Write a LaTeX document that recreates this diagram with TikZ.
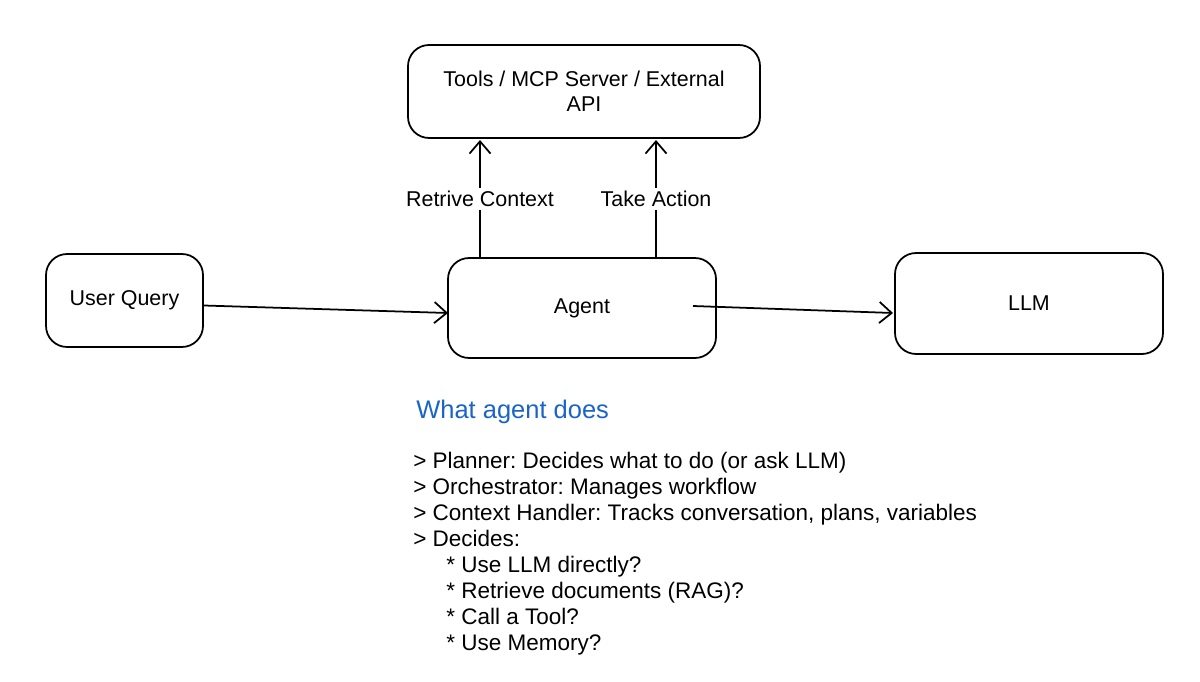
\documentclass[tikz,border=0pt]{standalone}
\usepackage{fontspec}
\setmainfont{Liberation Sans}
\usetikzlibrary{arrows.meta}
\begin{document}
\frenchspacing
\begin{tikzpicture}[x=0.02cm,y=-0.02cm,
  box/.style={draw,line width=1pt,rounded corners=12pt,inner sep=0pt},
  arr/.style={line width=1pt,-{Straight Barb[length=7pt,width=12pt]}},
  lbl/.style={font=\fontsize{12.2}{14}\selectfont},
  txt/.style={font=\fontsize{12.8}{14}\selectfont,anchor=base west,inner sep=0pt}]
\useasboundingbox (0,0) rectangle (1200,682);
\node[box,minimum width=352*0.02cm,minimum height=93*0.02cm,align=center,lbl] (tools) at (584,91.5) {Tools / MCP Server / External\\API};
\node[box,minimum width=157*0.02cm,minimum height=93*0.02cm,lbl] (user) at (124.5,300.5) {User Query};
\node[box,minimum width=268*0.02cm,minimum height=100*0.02cm,lbl] (agent) at (582,308) {Agent};
\node[box,minimum width=268*0.02cm,minimum height=101*0.02cm,lbl] (llm) at (1029,303.5) {LLM};
\coordinate (a1) at (693,306);
\draw[arr] (user.east) ++(0,5) -- (448,313);
\draw[arr] (a1) -- (893,313);
\draw[arr] (480,258) -- (480,140) node[pos=0.5,fill=white,lbl,inner sep=2pt] (rc) {Retrive Context};
\draw[arr] (656,258) -- (656,140) node[pos=0.5,fill=white,lbl,inner sep=2pt] (ta) {Take Action};
\node[txt,text={rgb,255:red,25;green,100;blue,200},font=\fontsize{14.5}{16}\selectfont] (h) at (416,418) {What agent does};
\node[txt] (l1) at (413,468) {> Planner: Decides what to do (or ask LLM)};
\node[txt] (l2) at (413,494) {> Orchestrator: Manages workflow};
\node[txt] (l3) at (413,520) {> Context Handler: Tracks conversation, plans, variables};
\node[txt] (l4) at (413,546) {> Decides:};
\node[txt] (l5) at (446,572) {* Use LLM directly?};
\node[txt] (l6) at (446,598) {* Retrieve documents (RAG)?};
\node[txt] (l7) at (446,624) {* Call a Tool?};
\node[txt] (l8) at (446,650) {* Use Memory?};
\end{tikzpicture}
\end{document}
